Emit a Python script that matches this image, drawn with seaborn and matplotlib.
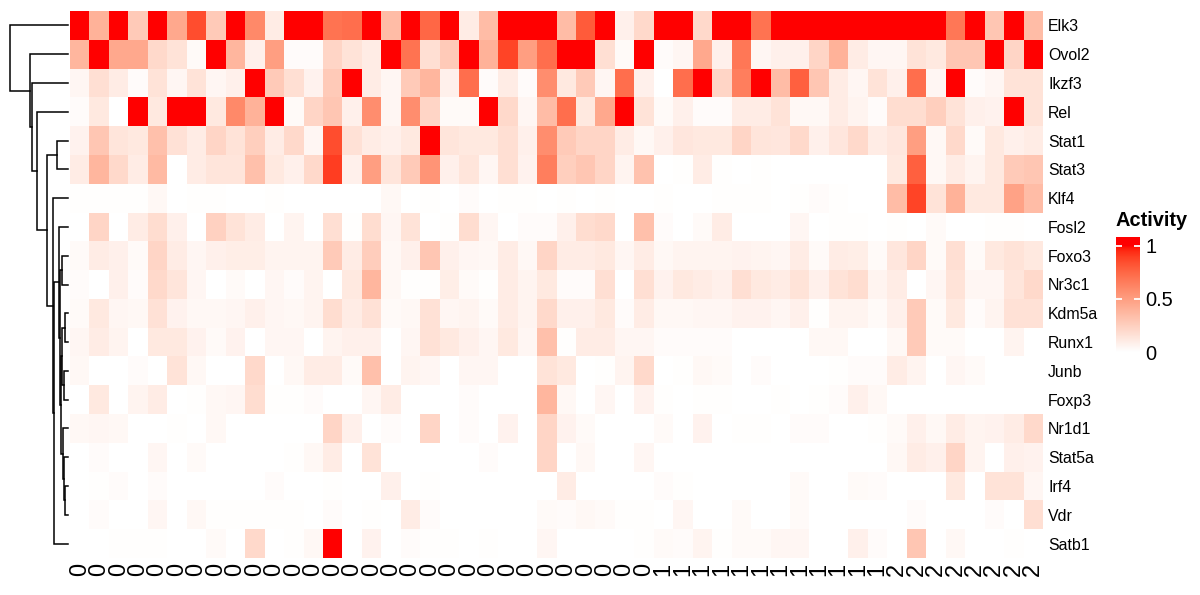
import numpy as np
import pandas as pd
import matplotlib
matplotlib.use("Agg")
import matplotlib.pyplot as plt
from matplotlib.colors import ListedColormap, Normalize
import seaborn as sns

genes = ["Elk3", "Ovol2", "Ikzf3", "Rel", "Stat1", "Stat3", "Klf4", "Fosl2", "Foxo3",
         "Nr3c1", "Kdm5a", "Runx1", "Junb", "Foxp3", "Nr1d1", "Stat5a", "Irf4", "Vdr", "Satb1"]
clusters = ["0"] * 30 + ["1"] * 12 + ["2"] * 8

elk3 = [1, .4, 1, .28, 1, .45, .85, .28, 1, .6, .1, 1, 1, .7, .72, 1, .35, 1, .75, 1, .1, .35, 1, 1, 1,
        .35, .8, 1, .08, .2, 1, 1, .2, 1, 1, .7, 1, 1, 1, 1, 1, 1, 1, 1, 1, .68, 1, .3, 1, .35]
ovol2 = [.38, 1, .45, .45, .2, .15, .03, 1, .38, .08, .5, .02, .02, .22, .15, .1, 1, .7, .17, .28, 1, .4, .88, .5, .72,
         1, 1, .17, .03, 1, .02, .05, .45, .08, .68, .05, .08, .08, .22, .4, .1, .05, .05, .15, .12, .3, .3, 1, .22, 1]
ikzf3 = [.05, .17, .1, .02, .15, .05, .15, .05, .08, 1, .28, .17, .07, .28, 1, .1, .05, .28, .38, .08, .72, .02, .1, .02, .58,
         .12, .28, .05, .72, .08, 0, .72, 1, .22, .65, 1, .35, .78, .3, .1, .05, .15, .08, .72, .05, 1, .02, .05, .15, .15]
rel = [.02, .12, 0, 1, .12, 1, 1, .12, .6, .4, 1, .03, .22, .3, .08, .58, .05, .58, .22, .03, .03, 1, .2, .05, .35,
       .72, .12, .45, 1, .15, .03, .08, .02, .02, .1, .1, .15, .04, .04, .1, .06, .02, .18, .18, .25, .15, .08, .07, 1, .15]
stat1 = [.07, .3, .14, .12, .33, .16, .1, .22, .15, .25, .1, .2, .05, .85, .16, .1, .08, .12, 1, .14, .12, .12, .17, .08, .58,
         .28, .22, .22, .1, .04, .08, .13, .12, .12, .22, .14, .13, .2, .08, .13, .2, .1, .13, .5, .04, .2, .03, .12, .08, .1]
stat3 = [.1, .38, .2, .1, .36, 0, .1, .14, .14, .33, .12, .08, .2, .9, .08, .5, .14, .28, .55, .08, .14, .05, .17, .07, .65,
         .25, .3, .22, .06, .32, 0, .01, .1, .01, 0, .01, 0, 0, 0, 0, 0, 0, .12, .78, .04, .1, .06, .12, .28, .3]
klf4 = [.01, .01, .01, .01, .04, 0, .01, .01, 0, 0, .01, 0, 0, 0, 0, 0, .04, 0, .01, 0, .02, 0, .01, .01, 0,
        .01, 0, .01, 0, 0, .01, 0, 0, .01, .01, .01, 0, .01, .02, .01, 0, 0, .35, .88, .15, .4, .12, .12, .48, .35]
fosl2 = [0, .22, 0, .1, .18, .08, 0, .24, .15, .1, 0, .06, 0, .17, .01, .18, .05, .15, 0, .01, .18, .05, 0, .02, .02,
         .08, .18, .2, 0, .33, .02, 0, .03, .1, 0, 0, 0, .05, 0, .01, .01, 0, .01, 0, .03, 0, 0, .01, .01, 0]
foxo3 = [.03, .1, .08, .03, .22, .1, .05, .08, .09, .09, .06, .06, .06, .28, .1, .26, .04, .08, .3, .08, .05, .04, .1, .04, .22,
         .1, .1, .12, .05, .1, .04, .06, .06, .06, .07, .06, .05, .1, .03, .1, .09, .03, .13, .22, .03, .17, .03, .12, .15, .12]
nr3c1 = [.02, 0, .08, .02, .2, .14, .05, 0, .03, 0, .05, .02, .06, 0, .12, .38, .04, .01, .01, .09, .03, .01, .1, .06, .12,
         .02, .02, .17, 0, .17, .07, .12, .1, .08, .17, .12, .1, .15, .08, .15, .18, .06, .1, 0, .05, .15, .05, .05, .14, .2]
kdm5a = [.03, .12, .05, .04, .16, .07, .04, .04, .05, .08, .05, .04, .06, .18, .1, .16, .03, .04, .16, .05, .06, .03, .1, .06, .2,
         .08, .08, .12, .02, .1, .04, .04, .05, .05, .07, .07, .05, .08, .01, .06, .06, .03, .08, .28, .03, .12, .02, .06, .16, .16]
runx1 = [.05, .1, .06, 0, .12, .12, .07, .03, .07, 0, .05, .05, 0, .06, .08, .08, 0, .05, .16, .12, .08, .05, .12, .05, .33,
         .01, .1, .1, .05, .05, .02, .02, .02, .02, 0, 0, 0, 0, .04, .04, 0, 0, .04, .28, .03, .03, 0, 0, .06, 0]
junb = [.04, 0, 0, .02, 0, .15, .04, 0, 0, .2, 0, .04, .1, .1, .03, .33, 0, .06, .05, 0, .05, .05, 0, 0, .15,
        .12, 0, .01, .06, .2, 0, .01, .04, .03, 0, .02, 0, 0, 0, .01, .02, .02, .1, .06, 0, .05, .03, 0, 0, 0]
foxp3 = [0, .12, 0, .06, .1, 0, .01, .04, .05, .18, .01, .01, .02, 0, 0, .05, .1, 0, 0, 0, .02, 0, 0, 0, .38,
         .04, 0, .05, 0, .07, .01, 0, .01, .01, 0, 0, .01, 0, .01, .02, .08, .04, 0, 0, 0, 0, 0, 0, 0, 0]
nr1d1 = [.04, .05, .04, 0, 0, .01, 0, .04, 0, 0, 0, 0, 0, .22, .08, 0, .02, 0, .22, 0, .02, 0, .07, 0, .22,
         .07, .03, 0, 0, 0, .03, 0, .07, 0, .01, .01, 0, .02, .02, 0, 0, .01, .03, .08, .04, .1, .06, .07, .1, .2]
stat5a = [0, .02, 0, 0, .05, 0, .03, 0, 0, 0, 0, .01, .04, .1, 0, .15, 0, 0, 0, 0, 0, .02, 0, 0, .22,
          0, .04, 0, 0, .05, 0, 0, 0, 0, 0, 0, 0, 0, 0, 0, 0, 0, .04, .1, .08, .22, .06, 0, .08, .07]
irf4 = [0, .01, .02, 0, .02, 0, 0, 0, 0, 0, .02, 0, 0, .01, 0, 0, .08, 0, .01, 0, 0, 0, 0, 0, 0,
        .1, 0, 0, 0, 0, .02, .01, 0, 0, 0, 0, 0, .03, 0, 0, .03, .02, 0, 0, 0, .12, 0, .15, .15, .05]
vdr = [0, .02, 0, 0, .05, 0, .04, .01, .01, .01, .01, .01, 0, .02, 0, .01, 0, .1, .02, 0, 0, 0, 0, 0, .03,
       .02, .04, .03, .01, .01, 0, .05, 0, 0, .03, 0, 0, .03, 0, 0, 0, 0, 0, .02, 0, 0, 0, .02, 0, .17]
satb1 = [0, 0, .01, .01, .01, 0, 0, .03, 0, .2, 0, .01, .04, 1, 0, .07, 0, .02, .01, .01, 0, .01, 0, 0, .05,
         0, 0, 0, 0, .01, .03, .02, .06, .01, .03, .03, .05, .05, 0, 0, .08, .02, 0, .3, 0, .04, 0, 0, .01, 0]

# row dendrogram: (left child, right child, height); leaves 0..18 in display order
merges = [
    (4, 5, 11.0),    # 19
    (10, 11, 3.0),   # 20
    (12, 13, 4.5),   # 21
    (20, 21, 6.0),   # 22
    (16, 17, 3.0),   # 23
    (15, 23, 4.0),   # 24
    (14, 24, 5.0),   # 25
    (22, 25, 7.0),   # 26
    (8, 9, 6.5),     # 27
    (27, 26, 8.0),   # 28
    (7, 28, 9.0),    # 29
    (29, 18, 14.0),  # 30
    (6, 30, 15.5),   # 31
    (19, 31, 21.0),  # 32
    (3, 32, 31.5),   # 33
    (2, 33, 36.0),   # 34
    (1, 34, 38.0),   # 35
    (0, 35, 58.0),   # 36
]

rows = [elk3, ovol2, ikzf3, rel, stat1, stat3, klf4, fosl2, foxo3, nr3c1,
        kdm5a, runx1, junb, foxp3, nr1d1, stat5a, irf4, vdr, satb1]
df = pd.DataFrame(rows, index=genes, columns=clusters)


# white -> red ramp interpolated in CIE Lab, like colorRamp2
def srgb_to_lab(c):
    c = np.asarray(c, float)
    lin = np.where(c <= 0.04045, c / 12.92, ((c + 0.055) / 1.055) ** 2.4)
    M = np.array([[0.4124, 0.3576, 0.1805], [0.2126, 0.7152, 0.0722], [0.0193, 0.1192, 0.9505]])
    xyz = M @ lin / np.array([0.95047, 1.0, 1.08883])
    f = np.where(xyz > 0.008856, np.cbrt(xyz), 7.787 * xyz + 16 / 116)
    return np.array([116 * f[1] - 16, 500 * (f[0] - f[1]), 200 * (f[1] - f[2])])


def lab_to_srgb(lab):
    L, a, b = lab
    fy = (L + 16) / 116
    f = np.array([fy + a / 500, fy, fy - b / 200])
    xyz = np.where(f ** 3 > 0.008856, f ** 3, (f - 16 / 116) / 7.787) * np.array([0.95047, 1.0, 1.08883])
    Minv = np.array([[3.2406, -1.5372, -0.4986], [-0.9689, 1.8758, 0.0415], [0.0557, -0.2040, 1.0570]])
    lin = np.clip(Minv @ xyz, 0, 1)
    c = np.where(lin <= 0.0031308, 12.92 * lin, 1.055 * lin ** (1 / 2.4) - 0.055)
    return np.clip(c, 0, 1)


lab0 = srgb_to_lab([1, 1, 1])
lab1 = srgb_to_lab([1, 0, 0])
cmap = ListedColormap([lab_to_srgb(lab0 + t * (lab1 - lab0)) for t in np.linspace(0, 1, 256)])

plt.rcParams["font.family"] = ["Liberation Sans", "DejaVu Sans"]

W, H = 1200, 595
fig = plt.figure(figsize=(12, 5.95), dpi=100)

ax = fig.add_axes([70 / W, 1 - 558 / H, 973 / W, 547 / H])
sns.heatmap(df, ax=ax, cmap=cmap, vmin=0, vmax=1, cbar=False,
            xticklabels=True, yticklabels=True, linewidths=0)
ax.yaxis.tick_right()
ax.tick_params(axis="y", length=0, pad=3.6, labelsize=11.4, labelrotation=0)
ax.tick_params(axis="x", length=0, pad=3.6, labelsize=17, labelrotation=90)
for t in ax.get_yticklabels():
    t.set_ha("left")
ax.set_xlabel("")
ax.set_ylabel("")

# dendrogram
dax = fig.add_axes([10 / W, 1 - 558 / H, 58 / W, 547 / H])
n = len(genes)
ypos = {i: i + 0.5 for i in range(n)}
hgt = {i: 0.0 for i in range(n)}
for k, (a, b, h) in enumerate(merges):
    node = n + k
    dax.plot([hgt[a], h, h, hgt[b]], [ypos[a], ypos[a], ypos[b], ypos[b]],
             color="black", lw=1.1, clip_on=False, solid_joinstyle="miter")
    ypos[node] = (ypos[a] + ypos[b]) / 2
    hgt[node] = h
dax.set_xlim(merges[-1][2], 0)
dax.set_ylim(n, 0)
dax.axis("off")

# colour legend
cax = fig.add_axes([1116 / W, 1 - 352 / H, 24 / W, 115 / H])
grad = np.linspace(0, 1.08, 256).reshape(-1, 1)
cax.imshow(grad, cmap=cmap, norm=Normalize(0, 1), aspect="auto",
           origin="lower", extent=[0, 1, 0, 1.08])
cax.set_xlim(0, 1)
cax.set_ylim(0, 1.08)
cax.set_xticks([])
cax.set_yticks([0, 0.5, 1])
cax.set_yticklabels(["0", "0.5", "1"])
cax.yaxis.set_ticks_position("both")
cax.tick_params(axis="y", direction="in", color="white", length=4, width=1.3,
                labelleft=False, labelright=True, labelsize=14.4, pad=4)
for s in cax.spines.values():
    s.set_visible(False)
fig.text(1116 / W, 1 - 221 / H, "Activity", fontsize=14.4, fontweight="bold",
         ha="left", va="center")

fig.savefig("out.png", dpi=100)
